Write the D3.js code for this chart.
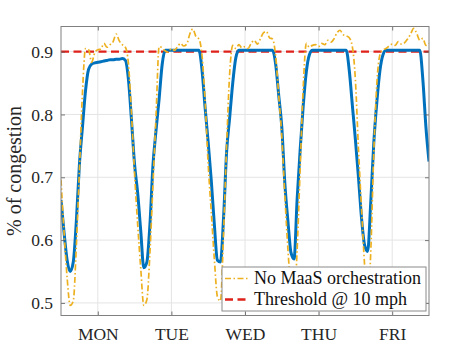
<!DOCTYPE html>
<html>
<head>
<meta charset="utf-8">
<script src="https://cdn.jsdelivr.net/npm/d3@7"></script>
<style>
  html, body { margin: 0; padding: 0; background: #fff; }
  svg { display: block; }
  svg text { font-family: "Liberation Serif", "DejaVu Serif", serif; }
</style>
</head>
<body>
<svg id="chart" width="474" height="355"></svg>
<script>
// ---- data (hourly samples, Monday 00:00 .. Saturday 00:00) ----
const dayLabels = ["MON", "TUE", "WED", "THU", "FRI"];
const dayTickHours = [12, 36, 60, 84, 108];
const yTicks = [0.5, 0.6, 0.7, 0.8, 0.9];
const threshold = 0.9;

const withMaaS = [
  0.664, 0.612, 0.568, 0.550, 0.565, 0.630, 0.720, 0.780, 0.838, 0.872,
  0.880, 0.882, 0.883, 0.884, 0.885, 0.886, 0.887, 0.887, 0.888, 0.888,
  0.889, 0.886, 0.855, 0.790, 0.720, 0.675, 0.615, 0.556, 0.565, 0.625,
  0.720, 0.775, 0.825, 0.880, 0.902, 0.902, 0.902, 0.902, 0.902, 0.902,
  0.902, 0.902, 0.902, 0.902, 0.902, 0.902, 0.870, 0.810, 0.755, 0.695,
  0.625, 0.568, 0.565, 0.635, 0.740, 0.795, 0.850, 0.890, 0.902, 0.902,
  0.902, 0.902, 0.902, 0.902, 0.902, 0.902, 0.902, 0.902, 0.902, 0.902,
  0.880, 0.830, 0.780, 0.690, 0.630, 0.580, 0.570, 0.665, 0.745, 0.815,
  0.868, 0.895, 0.902, 0.902, 0.902, 0.902, 0.902, 0.902, 0.902, 0.902,
  0.902, 0.902, 0.902, 0.902, 0.870, 0.815, 0.760, 0.700, 0.635, 0.592,
  0.582, 0.660, 0.755, 0.820, 0.870, 0.895, 0.902, 0.902, 0.902, 0.902,
  0.902, 0.902, 0.902, 0.902, 0.902, 0.902, 0.902, 0.902, 0.855, 0.780,
  0.725
];

const noMaaS = [
  0.696, 0.612, 0.540, 0.496, 0.503, 0.590, 0.710, 0.835, 0.905, 0.903,
  0.883, 0.898, 0.903, 0.904, 0.913, 0.907, 0.911, 0.916, 0.928, 0.917,
  0.911, 0.907, 0.880, 0.800, 0.705, 0.625, 0.555, 0.496, 0.505, 0.580,
  0.690, 0.800, 0.908, 0.906, 0.901, 0.899, 0.905, 0.902, 0.908, 0.913,
  0.909, 0.912, 0.928, 0.936, 0.924, 0.920, 0.893, 0.820, 0.720, 0.645,
  0.570, 0.510, 0.503, 0.610, 0.750, 0.865, 0.910, 0.905, 0.911, 0.906,
  0.908, 0.905, 0.913, 0.918, 0.912, 0.920, 0.930, 0.932, 0.922, 0.920,
  0.893, 0.830, 0.765, 0.670, 0.585, 0.522, 0.500, 0.585, 0.715, 0.845,
  0.913, 0.907, 0.910, 0.911, 0.908, 0.913, 0.911, 0.918, 0.915, 0.920,
  0.930, 0.934, 0.927, 0.925, 0.922, 0.908, 0.855, 0.745, 0.650, 0.560,
  0.500, 0.580, 0.740, 0.850, 0.895, 0.903, 0.905, 0.909, 0.912, 0.910,
  0.916, 0.912, 0.914, 0.920, 0.928, 0.937, 0.929, 0.918, 0.921, 0.910,
  0.913
];

const legendLabels = ["No MaaS orchestration", "Threshold @ 10 mph"];

// ---- layout ----
const FONT = "'Liberation Serif', 'DejaVu Serif', serif";
const W = 474, H = 355;
const m = { left: 61, right: 45, top: 26.5, bottom: 39.5 };
const iw = W - m.left - m.right, ih = H - m.top - m.bottom;

const svg = d3.select("#chart");
const g = svg.append("g").attr("transform", `translate(${m.left},${m.top})`);

const x = d3.scaleLinear().domain([0, 120]).range([0, iw]);
const y = d3.scaleLinear().domain([0.48, 0.94]).range([ih, 0]);

// grid
g.append("g").selectAll("line").data(dayTickHours).join("line")
  .attr("x1", d => x(d)).attr("x2", d => x(d)).attr("y1", 0).attr("y2", ih)
  .attr("stroke", "#e4e4e4").attr("stroke-width", 1);
g.append("g").selectAll("line").data(yTicks).join("line")
  .attr("y1", d => y(d)).attr("y2", d => y(d)).attr("x1", 0).attr("x2", iw)
  .attr("stroke", "#e4e4e4").attr("stroke-width", 1);

g.append("defs").append("clipPath").attr("id", "clip")
  .append("rect").attr("width", iw).attr("height", ih);

const plot = g.append("g").attr("clip-path", "url(#clip)");

// threshold
plot.append("line")
  .attr("x1", 0).attr("x2", iw).attr("y1", y(threshold)).attr("y2", y(threshold))
  .attr("stroke", "#e0201a").attr("stroke-width", 2.3).attr("stroke-dasharray", "8,4.5");

const line = d3.line().x((d, i) => x(i)).y(d => y(d)).curve(d3.curveMonotoneX);

plot.append("path").datum(withMaaS).attr("d", line)
  .attr("fill", "none").attr("stroke", "#0072BD").attr("stroke-width", 3)
  .attr("stroke-linejoin", "round");

plot.append("path").datum(noMaaS).attr("d", line)
  .attr("fill", "none").attr("stroke", "#EDB120").attr("stroke-width", 1.7)
  .attr("stroke-dasharray", "6,2.5,1.5,2.5");

// axes
const xAxisB = d3.axisBottom(x).tickValues(dayTickHours).tickFormat((d, i) => dayLabels[i])
  .tickSizeInner(-4).tickSizeOuter(0).tickPadding(12);
const xAxisT = d3.axisTop(x).tickValues(dayTickHours).tickFormat("").tickSizeInner(-4).tickSizeOuter(0);
const yAxisL = d3.axisLeft(y).tickValues(yTicks).tickFormat(d3.format(".1f"))
  .tickSizeInner(-4).tickSizeOuter(0).tickPadding(8);
const yAxisR = d3.axisRight(y).tickValues(yTicks).tickFormat("").tickSizeInner(-4).tickSizeOuter(0);

function style(sel) {
  sel.attr("font-family", FONT);
  sel.select(".domain").remove();
  sel.selectAll("line").attr("stroke", "#555").attr("stroke-width", 0.8);
  sel.selectAll("text").attr("fill", "#262626").attr("font-size", "17.5px")
    .attr("font-family", FONT).style("font-family", FONT);
}
g.append("g").attr("transform", `translate(0,${ih})`).call(xAxisB).call(style);
g.append("g").call(xAxisT).call(style);
g.append("g").call(yAxisL).call(style);
g.append("g").attr("transform", `translate(${iw},0)`).call(yAxisR).call(style);

// box
g.append("rect").attr("width", iw).attr("height", ih)
  .attr("fill", "none").attr("stroke", "#808080").attr("stroke-width", 1);

// y label
svg.append("text")
  .attr("transform", `translate(21,${m.top + ih / 2}) rotate(-90)`)
  .attr("text-anchor", "middle")
  .attr("font-size", "20px").attr("fill", "#262626")
  .style("font-family", FONT)
  .text("% of congestion");

// legend
const lg = svg.append("g").attr("transform", "translate(222,267)");
lg.append("rect").attr("width", 204).attr("height", 44)
  .attr("fill", "#fff").attr("stroke", "#8a8a8a").attr("stroke-width", 1);
const rows = [
  { color: "#EDB120", dash: "6,2.5,1.5,2.5", w: 1.7 },
  { color: "#e0201a", dash: "8,4.5", w: 2.3 }
];
rows.forEach((r, i) => {
  const cy = 11.5 + i * 21;
  lg.append("line").attr("x1", 3).attr("x2", 28).attr("y1", cy).attr("y2", cy)
    .attr("stroke", r.color).attr("stroke-width", r.w).attr("stroke-dasharray", r.dash);
  lg.append("text").attr("x", 32).attr("y", cy + 5.5)
    .attr("font-size", "18px").attr("fill", "#111")
    .style("font-family", FONT).text(legendLabels[i]);
});
</script>
</body>
</html>
